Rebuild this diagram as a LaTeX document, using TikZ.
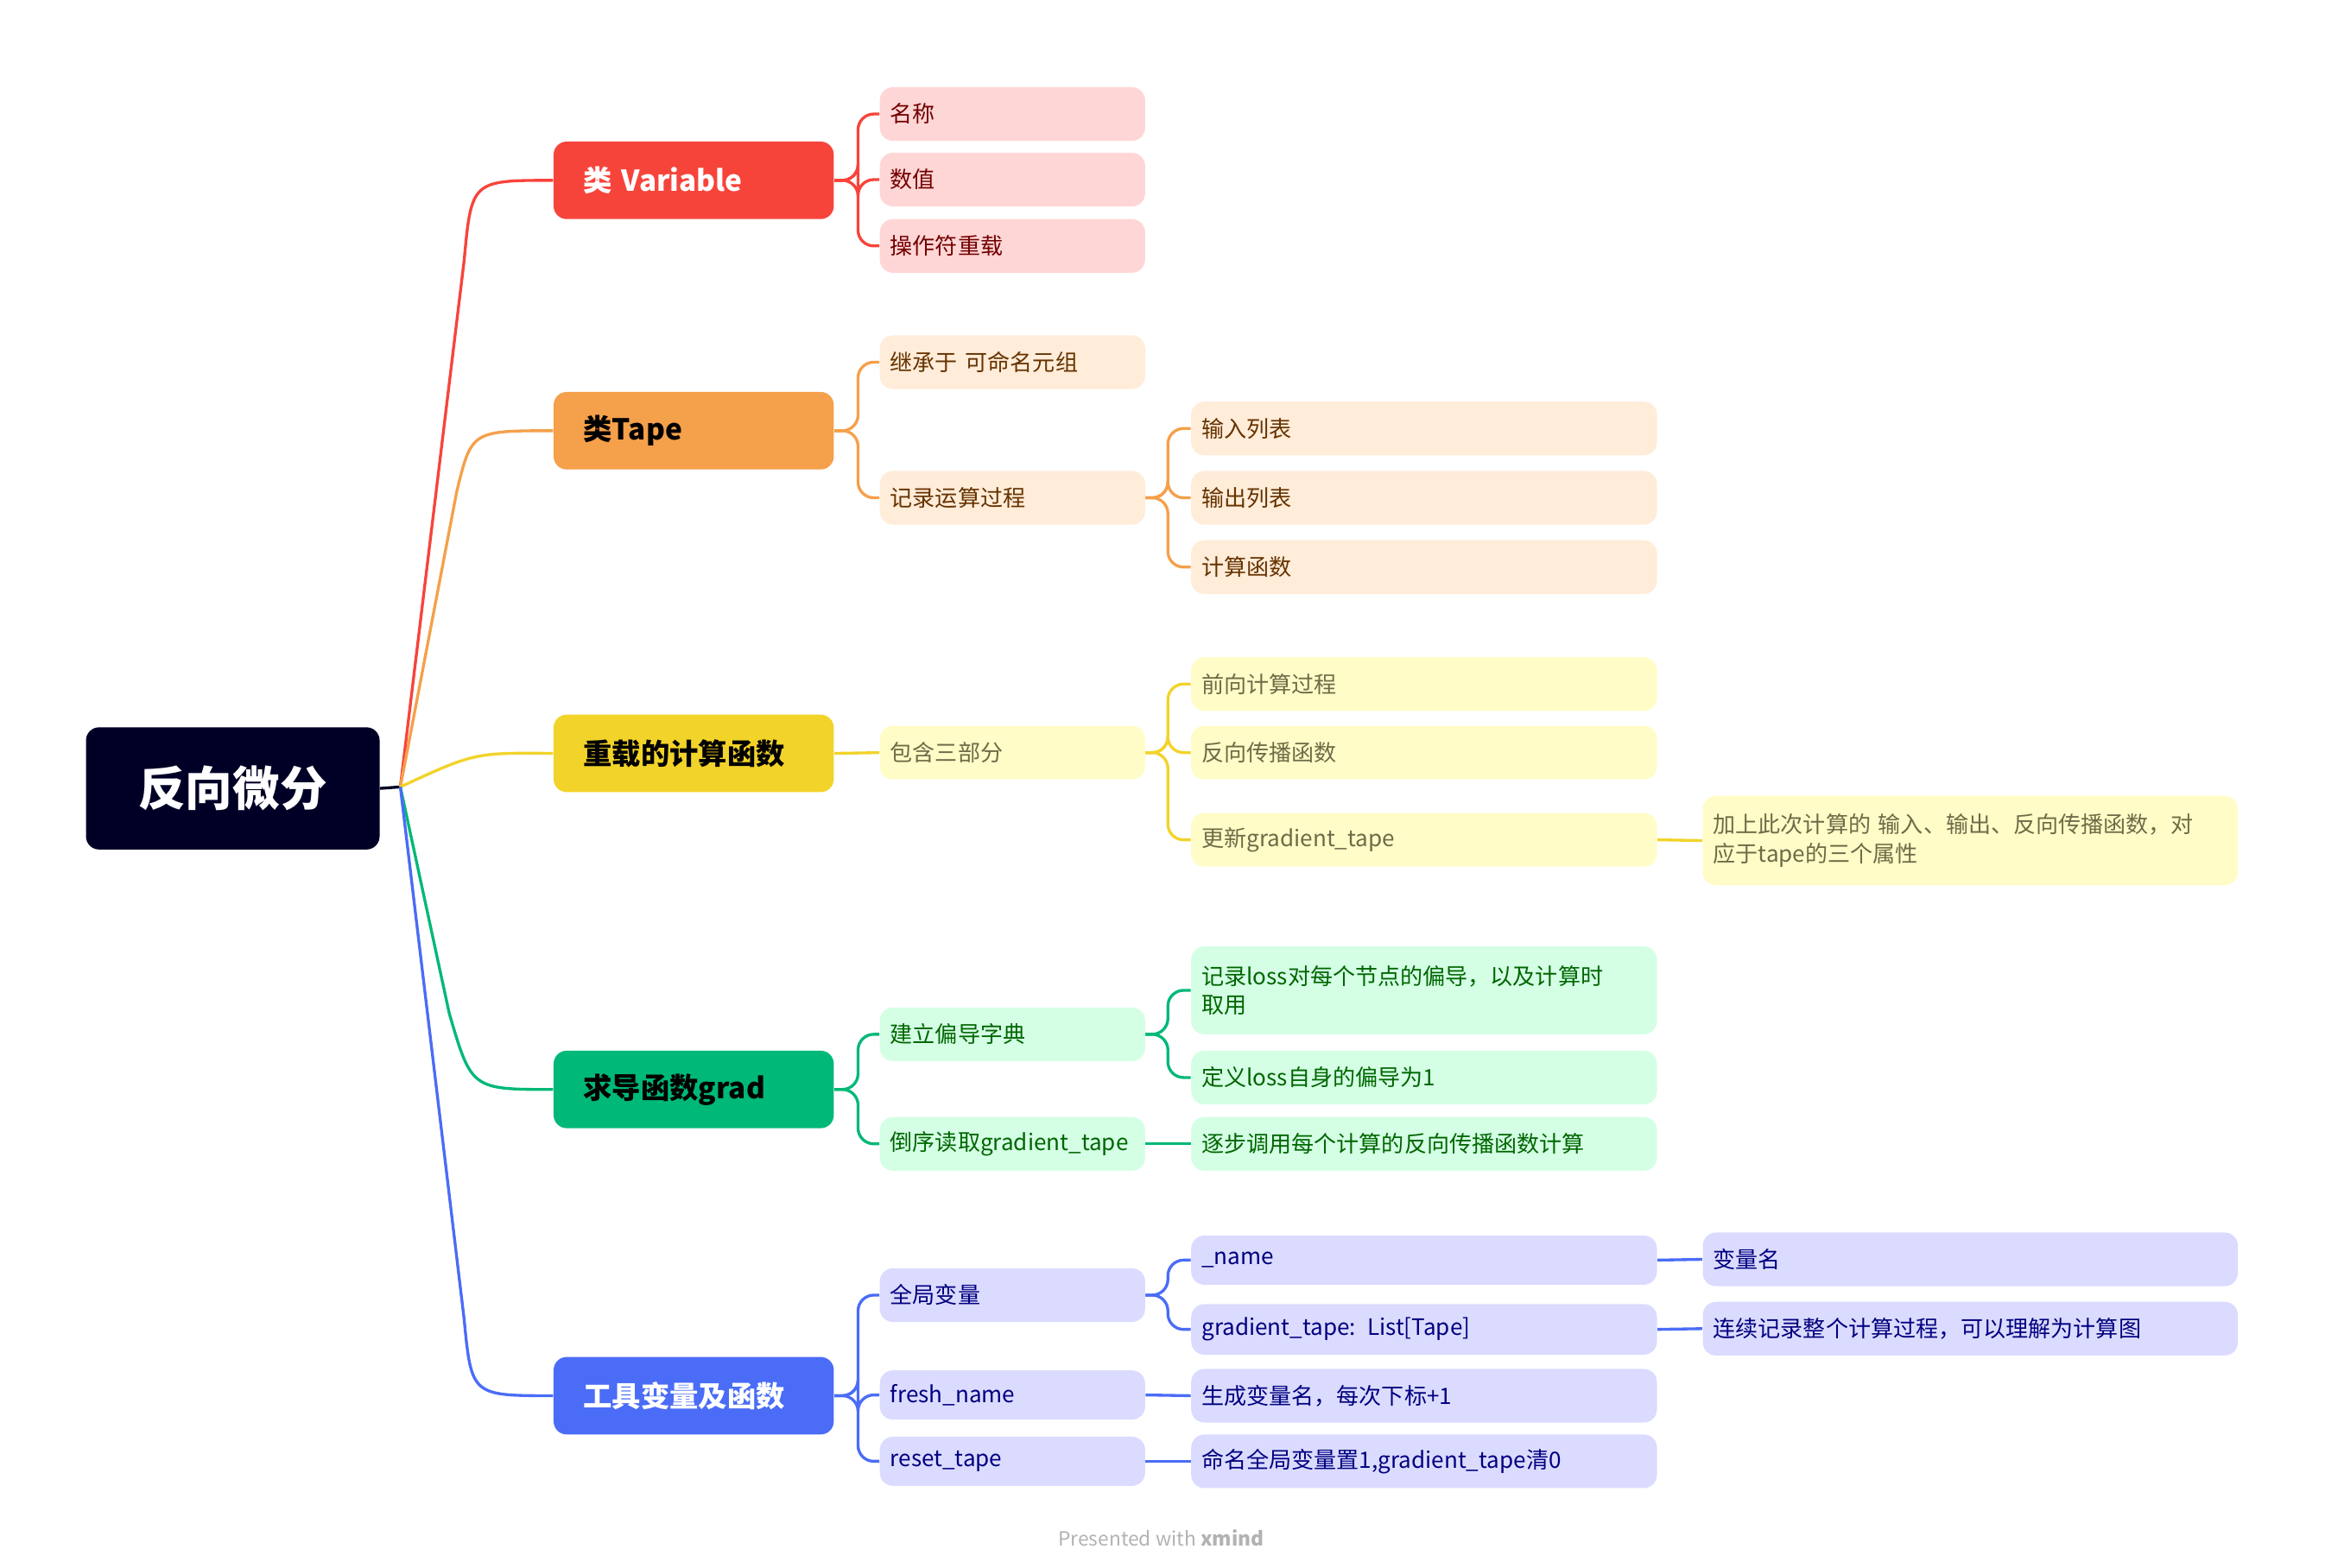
\documentclass[tikz,border=0pt]{standalone}
\usepackage{fontspec}
\setmainfont{Noto Sans CJK SC}
\begin{document}
\begin{tikzpicture}[x=0.0199cm,y=-0.02cm,
  base/.style={rounded corners=5pt,inner ysep=0pt,anchor=west,align=left,font=\fontsize{8.6}{11}\selectfont,minimum height=0.72cm},
  l2/.style={base,text width=3.28cm,inner xsep=0.14cm},
  l3/.style={base,text width=5.97cm,inner xsep=0.14cm},
  l4/.style={base,text width=6.9cm,inner xsep=0.14cm},
  lone/.style={rounded corners=5pt,anchor=west,align=left,minimum height=1.04cm,text width=2.96cm,inner xsep=0.4cm,font=\fontsize{11}{13}\selectfont\bfseries},
  ln/.style={line width=1.1pt,rounded corners=6pt},
  co/.style={fill=orange!15,text=orange!40!black},
  cy/.style={fill=yellow!22,text=yellow!35!black},
  cg/.style={fill=green!60!cyan!17,text=green!40!black},
  cb/.style={fill=blue!14,text=blue!50!black}]
\definecolor{Rr}{HTML}{F7443B}\definecolor{Ro}{HTML}{F5A04A}\definecolor{Ry}{HTML}{F2D32A}\definecolor{Rg}{HTML}{00B877}\definecolor{Rb}{HTML}{4A6CF7}
\useasboundingbox (0,0) rectangle (1568,1052);
\node[fill=black!85!blue,text=white,rounded corners=5pt,minimum width=3.94cm,minimum height=1.64cm,font=\fontsize{18}{20}\selectfont\bfseries] (root) at (157,529) {反向微分};
\coordinate (rs) at (270,528);
\draw[line width=1.1pt,black!85!blue] (root.east) -- (rs);
% level 1
\node[lone,fill=Rr,text=white] (v) at (373,121) {类 Variable};
\node[lone,fill=Ro,text=black] (t) at (373,289) {类Tape};
\node[lone,fill=Ry,text=black] (y) at (373,505.5) {重载的计算函数};
\node[lone,fill=Rg,text=black] (g) at (373,731) {求导函数grad};
\node[lone,fill=Rb,text=white] (b) at (373,936.5) {工具变量及函数};
\draw[line width=1.1pt,Rr] (rs) -- (313,175) .. controls (318,121) .. (v.west);
\draw[line width=1.1pt,Ro] (rs) -- (308,330) .. controls (318,289) .. (t.west);
\draw[line width=1.1pt,Ry] (rs) .. controls (320,505) .. (y.west);
\draw[line width=1.1pt,Rg] (rs) -- (303,680) .. controls (318,731) .. (g.west);
\draw[line width=1.1pt,Rb] (rs) -- (313,885) .. controls (318,936.5) .. (b.west);
% red
\node[l2,fill=red!16,text=red!45!black] (v1) at (593,76.5) {名称};
\node[l2,fill=red!16,text=red!45!black] (v2) at (593,120.5) {数值};
\node[l2,fill=red!16,text=red!45!black] (v3) at (593,165) {操作符重载};
\foreach \n in {v1,v2,v3} \draw[ln,Rr] (v.east) -- ++(16,0) |- (\n.west);
% orange
\node[l2,co] (t1) at (593,243) {继承于 可命名元组};
\node[l2,co] (t2) at (593,334) {记录运算过程};
\foreach \n in {t1,t2} \draw[ln,Ro] (t.east) -- ++(16,0) |- (\n.west);
\node[l3,co] (t21) at (803,287.5) {输入列表};
\node[l3,co] (t22) at (803,334) {输出列表};
\node[l3,co] (t23) at (803,380.5) {计算函数};
\foreach \n in {t21,t22,t23} \draw[ln,Ro] (t2.east) -- ++(15,0) |- (\n.west);
% yellow
\node[l2,cy] (y1) at (593,505) {包含三部分};
\draw[ln,Ry] (y.east) -- (y1.west);
\node[l3,cy] (y11) at (803,459) {前向计算过程};
\node[l3,cy] (y12) at (803,505) {反向传播函数};
\node[l3,cy] (y13) at (803,563.5) {更新gradient\_tape};
\foreach \n in {y11,y12,y13} \draw[ln,Ry] (y1.east) -- ++(15,0) |- (\n.west);
\node[l4,cy,minimum height=1.2cm] (y131) at (1148,564) {加上此次计算的 输入、输出、反向传播函数，对\\应于tape的三个属性};
\draw[ln,Ry] (y13.east) -- (y131.west);
% green
\node[l2,cg] (g1) at (593,694) {建立偏导字典};
\node[l2,cg] (g2) at (593,767.5) {倒序读取gradient\_tape};
\foreach \n in {g1,g2} \draw[ln,Rg] (g.east) -- ++(16,0) |- (\n.west);
\node[l3,cg,minimum height=1.18cm] (g11) at (803,664.5) {记录loss对每个节点的偏导，以及计算时\\取用};
\node[l3,cg] (g12) at (803,723) {定义loss自身的偏导为1};
\foreach \n in {g11,g12} \draw[ln,Rg] (g1.east) -- ++(15,0) |- (\n.west);
\node[l3,cg] (g21) at (803,767.5) {逐步调用每个计算的反向传播函数计算};
\draw[ln,Rg] (g2.east) -- (g21.west);
% blue
\node[l2,cb] (b1) at (593,869) {全局变量};
\node[l2,cb,minimum height=0.66cm] (b2) at (593,936) {fresh\_name};
\node[l2,cb,minimum height=0.66cm] (b3) at (593,980.5) {reset\_tape};
\foreach \n in {b1,b2,b3} \draw[ln,Rb] (b.east) -- ++(16,0) |- (\n.west);
\node[l3,cb,minimum height=0.66cm] (b11) at (803,845.5) {\_name};
\node[l3,cb,minimum height=0.68cm] (b12) at (803,892) {gradient\_tape: List[Tape]};
\foreach \n in {b11,b12} \draw[ln,Rb] (b1.east) -- ++(15,0) |- (\n.west);
\node[l3,cb] (b21) at (803,936.5) {生成变量名，每次下标+1};
\node[l3,cb] (b31) at (803,980.5) {命名全局变量置1,gradient\_tape清0};
\draw[ln,Rb] (b2.east) -- (b21.west);
\draw[ln,Rb] (b3.east) -- (b31.west);
\node[l4,cb] (b111) at (1148,845) {变量名};
\node[l4,cb] (b121) at (1148,891.5) {连续记录整个计算过程，可以理解为计算图};
\draw[ln,Rb] (b11.east) -- (b111.west);
\draw[ln,Rb] (b12.east) -- (b121.west);
\node[text=black!30,font=\fontsize{7.5}{9}\selectfont] (ft) at (783,1032) {Presented with \textbf{xmind}};
\end{tikzpicture}
\end{document}
